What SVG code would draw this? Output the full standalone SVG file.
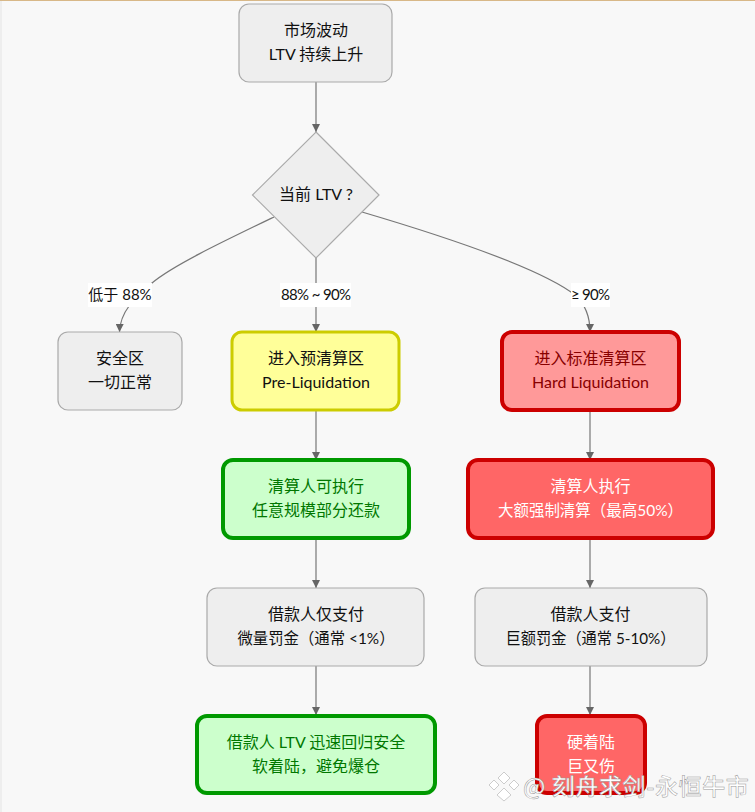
<svg xmlns="http://www.w3.org/2000/svg" width="755" height="812" viewBox="0 0 755 812">
<style>
text{font-family:Lato,"Noto Sans CJK SC",sans-serif;font-size:16px;text-anchor:middle;fill:#111}
.n{fill:#eee;stroke:#aaa;stroke-width:1.2}
.y{fill:#ff9;stroke:#cc0;stroke-width:3}
.g{fill:#cfc;stroke:#090;stroke-width:4}
.r{fill:#f99;stroke:#c00;stroke-width:4}
.d{fill:#f66;stroke:#c00;stroke-width:4}
text.w{fill:#fff}text.gt{fill:#070}text.rt{fill:#800}
.e{fill:none;stroke:#777;stroke-width:1.2;marker-end:url(#a)}
.lb{fill:#fff}
text.el{font-size:15px}
text.wm{font-family:"Noto Sans CJK SC",sans-serif;font-size:23px;font-weight:500;fill:#fff;stroke:#999;stroke-width:.5;text-anchor:start;letter-spacing:.6px}
.ic{fill:#fff;stroke:#ccc;stroke-width:1}
</style>
<defs><marker id="a" markerWidth="9" markerHeight="8" refX="8" refY="4" orient="auto" markerUnits="userSpaceOnUse"><path d="M0 0L8 4L0 8z" fill="#666"/></marker></defs>
<rect width="755" height="812" fill="#f8f8f8"/>
<rect width="755" height="1" fill="#d8b888"/>
<rect y="1" width="2" height="811" fill="#eee"/>
<g id="connectors">
<path class="e" d="M274 217C220 243 172 266 152 283C135 297 120 312 119.500 332"/>
<path class="e" d="M316 82V132"/>
<path class="e" d="M316 258V332"/>
<path class="e" d="M362 212C450 238 540 268 575 295C585 304 590 318 590 332"/>
<path class="e" d="M316 410V460"/>
<path class="e" d="M590 410V460"/>
<path class="e" d="M316 538V588"/>
<path class="e" d="M590 538V588"/>
<path class="e" d="M316 666V715"/>
<path class="e" d="M590 666V715"/>
</g>
<g id="edge-labels">
<rect class="lb" x="88" y="283" width="64" height="24"/><text class="el" x="120" y="300">低于 88%</text>
<rect class="lb" x="280" y="283" width="71" height="24"/><text class="el" x="316" y="300" textLength="70">88% ~ 90%</text>
<rect class="lb" x="571" y="283" width="39" height="24"/><text class="el" x="590.500" y="300" textLength="39">≥ 90%</text>
</g>
<g id="start"><rect class="n" x="239" y="4" width="153" height="78" rx="10"/><text x="316" y="36">市场波动</text><text x="316" y="60">LTV 持续上升</text></g>
<g id="decision"><path class="n" d="M316 132L379 195L316 258L252.500 195z"/><text x="316" y="200">当前 LTV ?</text></g>
<g id="safe"><rect class="n" x="58" y="332" width="124" height="78" rx="10"/><text x="120" y="364">安全区</text><text x="120" y="388">一切正常</text></g>
<g id="pre"><rect class="y" x="232" y="332" width="167" height="78" rx="10"/><text x="316" y="364">进入预清算区</text><text x="316" y="388">Pre-Liquidation</text></g>
<g id="hard"><rect class="r" x="502" y="332" width="177" height="78" rx="10"/><text class="rt" x="590.500" y="364">进入标准清算区</text><text class="rt" x="590.500" y="388">Hard Liquidation</text></g>
<g id="liq-partial"><rect class="g" x="223" y="460" width="186" height="78" rx="10"/><text class="gt" x="316" y="492">清算人可执行</text><text class="gt" x="316" y="516">任意规模部分还款</text></g>
<g id="liq-large"><rect class="d" x="468" y="460" width="245" height="78" rx="10"/><text class="w" x="590.500" y="492">清算人执行</text><text class="w" x="590.500" y="516" textLength="185" lengthAdjust="spacingAndGlyphs">大额强制清算（最高50%）</text></g>
<g id="pay-small"><rect class="n" x="207" y="588" width="217" height="78" rx="10"/><text x="316" y="620">借款人仅支付</text><text x="316" y="644" textLength="157" lengthAdjust="spacingAndGlyphs">微量罚金（通常 &lt;1%）</text></g>
<g id="pay-large"><rect class="n" x="475" y="588" width="232" height="78" rx="10"/><text x="590.500" y="620">借款人支付</text><text x="590.500" y="644" textLength="170" lengthAdjust="spacingAndGlyphs">巨额罚金（通常 5-10%）</text></g>
<g id="soft"><rect class="g" x="197" y="716" width="238" height="77" rx="10"/><text class="gt" x="316" y="748">借款人 LTV 迅速回归安全</text><text class="gt" x="316" y="772">软着陆，避免爆仓</text></g>
<g id="crash"><rect class="d" x="537" y="716" width="108" height="77" rx="10"/><text class="w" x="591" y="748">硬着陆</text><text class="w" x="591" y="772">巨又伤</text></g>
<g id="watermark"><path class="ic" d="M504 772l6 6-6 6-6-6zM494 780l5 5-5 5-5-5zM514 780l5 5-5 5-5-5zM504 788l7 7-7 6-7-6z"/><text class="wm" x="523" y="795">@ 刻舟求剑-永恒牛市</text></g>
</svg>
